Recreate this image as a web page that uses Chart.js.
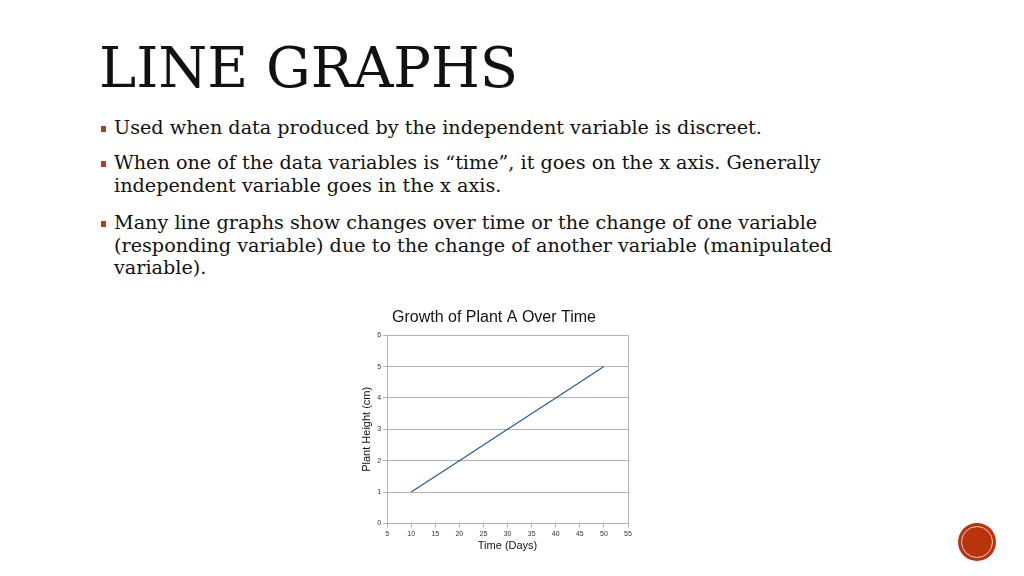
<!DOCTYPE html>
<html>
<head>
<meta charset="utf-8">
<script src="https://cdn.jsdelivr.net/npm/chart.js@4/dist/chart.umd.min.js"></script>
<style>
    body { margin: 0; width: 1024px; height: 576px; background: #fff; position: relative; overflow: hidden; }
    .title { position: absolute; left: 99px; top: 35px; font-family: "DejaVu Serif", serif; font-size: 56px; color: #111; }
    .bullet { position: absolute; left: 114px; font-family: "DejaVu Serif", serif; font-size: 19.2px; line-height: 22.5px; color: #111; width: 800px; }
    .bullet::before { content: ""; position: absolute; left: -13px; top: 9px; width: 5px; height: 6px; background: #a8421f; }
    #chartBox { position: absolute; left: 350px; top: 305px; width: 300px; height: 248px; }
    .dot { position: absolute; left: 958px; top: 523px; width: 38px; height: 38px; border-radius: 50%; background: #b8330e; }
    .dot::after { content: ""; position: absolute; left: 3px; top: 3px; width: 30px; height: 30px; border-radius: 50%; border: 1px solid #f3c9b8; }
</style>
</head>
<body>
<div class="title">LINE GRAPHS</div>
<div class="bullet" style="top:117px">Used when data produced by the independent variable is discreet.</div>
<div class="bullet" style="top:152px">When one of the data variables is “time”, it goes on the x axis. Generally independent variable goes in the x axis.</div>
<div class="bullet" style="top:212px">Many line graphs show changes over time or the change of one variable (responding variable) due to the change of another variable (manipulated variable).</div>
<div id="chartBox"><canvas id="growthChart" width="300" height="248"></canvas></div>
<div class="dot"></div>
<script>
    const days = [10, 20, 30, 40, 50];
    const heights = [1, 2, 3, 4, 5];
    const xTicks = [5, 10, 15, 20, 25, 30, 35, 40, 45, 50, 55];
    const yTicks = [0, 1, 2, 3, 4, 5, 6];

    const gridGrey = '#b3b3b3';
    const tickFont = { family: 'Liberation Sans', size: 7 };

    const points = days.map(function (d, i) {
        return { x: d, y: heights[i] };
    });

    const ctx = document.getElementById('growthChart').getContext('2d');
    const config = {
        type: 'line',
        data: {
            datasets: [{
                label: 'Plant A',
                data: points,
                borderColor: '#2b5b8a',
                borderWidth: 1.2,
                pointRadius: 0,
                tension: 0,
            }],
        },
        options: {
            responsive: false,
            animation: false,
            layout: { padding: { left: 10, right: 22, top: 0, bottom: 0 } },
            plugins: {
                legend: { display: false },
                tooltip: { enabled: false },
                title: {
                    display: true,
                    text: 'Growth of Plant A Over Time',
                    color: '#111',
                    font: { family: 'Liberation Sans', size: 16, weight: 'normal' },
                    padding: { top: 3, bottom: 8 },
                },
            },
            scales: {
                x: {
                    type: 'linear',
                    min: xTicks[0],
                    max: xTicks[xTicks.length - 1],
                    afterBuildTicks: function (axis) {
                        axis.ticks = xTicks.map(function (v) { return { value: v }; });
                    },
                    ticks: { color: '#333', font: tickFont, padding: 2, maxRotation: 0 },
                    grid: {
                        color: function (c) {
                            return c.tick && c.tick.value === 55 ? gridGrey : 'rgba(0,0,0,0)';
                        },
                        tickColor: gridGrey,
                        tickLength: 4,
                    },
                    border: { color: gridGrey },
                    title: {
                        display: true,
                        text: 'Time (Days)',
                        color: '#111',
                        font: { family: 'Liberation Sans', size: 11 },
                        padding: { top: 0, bottom: 0 },
                    },
                },
                y: {
                    min: yTicks[0],
                    max: yTicks[yTicks.length - 1],
                    afterBuildTicks: function (axis) {
                        axis.ticks = yTicks.map(function (v) { return { value: v }; });
                    },
                    ticks: { color: '#333', font: tickFont, padding: 2 },
                    grid: { color: gridGrey, tickColor: gridGrey, tickLength: 4 },
                    border: { color: gridGrey },
                    title: {
                        display: true,
                        text: 'Plant Height (cm)',
                        color: '#111',
                        font: { family: 'Liberation Sans', size: 11 },
                        padding: { top: 0, bottom: 2 },
                    },
                },
            },
        },
    };
    const growthChart = new Chart(ctx, config);
</script>
</body>
</html>
